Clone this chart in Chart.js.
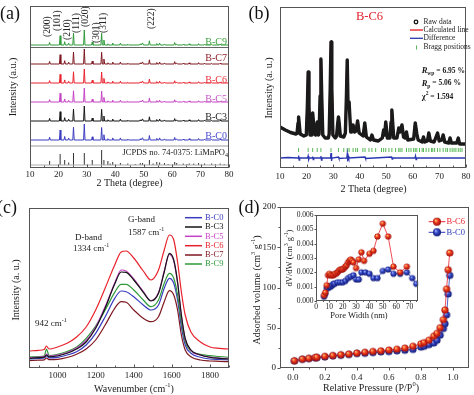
<!DOCTYPE html>
<html><head><meta charset="utf-8">
<script src="https://cdn.jsdelivr.net/npm/chart.js@4.4.1/dist/chart.umd.min.js"></script>
<style>
html,body{margin:0;padding:0;background:#fff;width:474px;height:395px;overflow:hidden;position:relative;}
canvas{position:absolute;display:block;}
</style></head><body>
<canvas id="ca" width="237" height="197" style="left:0;top:0"></canvas>
<canvas id="cb" width="237" height="197" style="left:237px;top:0"></canvas>
<canvas id="cc" width="237" height="198" style="left:0;top:197px"></canvas>
<canvas id="cd" width="237" height="198" style="left:237px;top:197px"></canvas>
<canvas id="ce" width="140" height="115" style="left:283px;top:207px"></canvas>
<script>
// ---------------- DATA ----------------
// (a) XRD patterns
const xrdTicks = [10, 20, 30, 40, 50, 60, 70, 80];
const xrdMinor = [15, 25, 35, 45, 55, 65, 75];
const xrdPeakPos = [16.9, 20.6, 22.2, 23.6, 25.3, 29.1, 31.9, 35.2, 36.0, 37.4, 39.1, 41.8, 44.4, 48.8, 49.6, 52.0, 54.6, 55.6, 57.3, 60.9, 61.6, 63.9, 66.0, 69.3, 71.4, 73.9, 76.9];
const xrdPeakRel = [0.17, 0.62, 0.22, 0.12, 0.80, 1.00, 0.20, 0.78, 0.33, 0.08, 0.13, 0.13, 0.05, 0.08, 0.14, 0.28, 0.10, 0.13, 0.07, 0.16, 0.06, 0.05, 0.08, 0.09, 0.06, 0.04, 0.05];
const xrdNames = ['B-C0', 'B-C3', 'B-C5', 'B-C6', 'B-C7', 'B-C9'];
const xrdOffsets = [28, 47, 66, 85, 104, 123];
const xrdHeights = [16, 15, 14, 14, 15, 15];
const jcpdsPos = [16.9, 20.6, 22.2, 23.6, 25.3, 29.1, 31.9, 35.2, 36.0, 37.4, 38.2, 39.1, 41.8, 44.4, 47.0, 48.8, 49.6, 52.0, 53.3, 54.6, 55.6, 57.3, 58.6, 60.9, 61.6, 63.9, 65.2, 66.0, 67.6, 69.3, 71.4, 73.9, 75.2, 76.9, 78.3];
const jcpdsInt = [4, 11, 5, 2.5, 12, 12, 5, 15, 5, 4, 1.5, 3, 2, 1.5, 1, 2, 2, 5, 1.5, 3, 2.5, 2, 1, 3, 2, 1.5, 1, 1.5, 1.5, 2, 1.5, 1.5, 1, 1.5, 1];
const hklLabels = ['(200)', '(101)', '(210)', '(111)', '(020)', '(301)', '(311)', '(222)'];
const hklAngle = [16.0, 19.6, 23.3, 26.2, 29.6, 33.4, 36.0, 52.6];

// (b) Rietveld refinement of B-C6
const refineCalc = [[10,41],[12,38],[14,35.5],[16,34],[16.4,34.5],[16.8,45],[17.0,51],[17.2,45],[17.6,34],[19,32],[19.9,33],[20.3,62],[20.6,96],[20.9,62],[21.3,33],[21.7,33],[22.0,45],[22.3,55],[22.6,45],[23.0,34],[23.4,33],[24.0,46],[24.5,33],[24.7,34],[25.1,72],[25.4,109],[25.7,72],[26.1,33],[27,30],[28.2,30],[28.5,34],[28.9,80],[29.2,126],[29.5,80],[29.9,33],[30.8,30],[31.3,32],[31.7,44],[32.0,51],[32.3,44],[32.7,32],[34,31],[34.6,35],[35.0,72],[35.3,108],[35.6,62],[36.0,66],[36.6,36],[37.0,36],[37.5,43],[38.0,36],[38.6,37],[39.2,47],[39.8,35],[41.3,32],[41.9,45],[42.5,31],[44,28],[44.6,33],[45.2,28],[47,27],[48.5,30],[49,38],[49.4,33],[49.8,46],[50.4,30],[51.4,30],[51.8,46],[52.1,58],[52.4,46],[52.8,30],[54,30],[54.7,40],[55.2,36],[55.9,43],[56.5,31],[57.1,30],[57.6,36],[58.1,28],[60.3,29],[60.9,45],[61.5,34],[62,28],[63.5,26],[64,31],[64.5,26],[65.5,27],[66,35],[66.6,27],[68,26],[69.3,35],[69.9,27],[70.9,28],[71.4,33],[72,26],[73.5,25],[74,30],[74.5,25],[76.5,25],[77.1,30],[77.6,24],[80,24]];
const refineDiff = [[10,10],[13,10.5],[16.8,10],[17,12.5],[17.2,8],[17.4,10],[20.4,10],[20.6,12],[20.8,8.5],[21,10],[22.1,10],[22.3,11.5],[22.5,8.5],[22.7,10],[25.2,10],[25.4,12],[25.6,8],[25.8,10],[29,10],[29.2,15],[29.4,7],[29.6,10],[32,11],[32.2,9.5],[35.1,10],[35.3,14],[35.5,6.5],[35.7,12],[35.9,10],[42,11],[42.2,9.5],[52,11],[52.2,9],[52.4,10],[60.8,10],[61,12],[61.2,8.5],[61.4,10],[80,10]];
const braggPos = [17, 20.6, 22.3, 24, 25.4, 29.2, 32, 34, 35.3, 36, 37.5, 38.5, 39.2, 41.2, 42, 43.5, 44.6, 46, 48.2, 49, 49.8, 51, 52.1, 53.5, 54.7, 55.2, 55.9, 57.6, 58.5, 59.3, 60.3, 60.9, 61.5, 62.5, 63.5, 64, 65, 66, 67, 67.5, 68.2, 69.3, 70.2, 71.4, 72.4, 73, 74, 74.8, 75.5, 76.2, 77.1, 77.8, 78.5];

// (c) Raman spectra
const ramanTicks = [1000, 1200, 1400, 1600, 1800];
const ramanMinor = [900, 1100, 1300, 1500, 1700, 1900];
const ramanX = [850, 900, 930, 942, 955, 1000, 1050, 1100, 1150, 1200, 1250, 1300, 1334, 1360, 1400, 1450, 1490, 1530, 1560, 1587, 1610, 1630, 1650, 1670, 1700, 1750, 1800, 1850, 1900];
const ramanC0 = [9, 9.5, 10, 12, 10.2, 10.7, 13, 16.3, 23, 34.7, 51.3, 69.7, 77, 76.3, 71.3, 63, 58, 63, 79.7, 89.7, 84.7, 68, 41.3, 23, 14.7, 10.7, 9, 8.5, 8];
const ramanC3 = [9.7, 10.3, 10.8, 13, 11.2, 12, 14.7, 19, 26, 39.7, 60, 84, 96, 95.7, 88, 75.7, 67, 74.7, 96, 114.7, 108, 86, 53, 29.7, 18, 13, 10.7, 9.7, 9];
const ramanC5 = [10.3, 10.8, 11.3, 14, 11.8, 12.8, 15.5, 20, 27.5, 41, 61.5, 85, 98, 97, 89, 76.5, 67.5, 75.5, 97, 113.7, 107, 85, 52, 29, 17.5, 13, 11, 10, 9.5];
const ramanC6 = [17, 17.7, 18.5, 22, 19, 21, 24.7, 31, 41, 58, 80, 103, 116, 117, 110, 97, 88, 98, 118, 133, 128, 106, 76, 53, 36, 26, 21, 19.7, 19];
const ramanC7 = [7.3, 7.8, 8.2, 10, 8.4, 8.7, 10.5, 13.7, 19, 28, 43, 59.7, 66.3, 65.7, 58, 49.7, 46.3, 51.3, 66.3, 77.3, 73, 58, 33, 18, 11.3, 8, 7, 6.7, 6.3];
const ramanC9 = [11, 11.5, 12, 19, 12.5, 13.7, 16.5, 21, 29.7, 42, 58, 75.7, 83.7, 83.7, 78, 68, 61.3, 68, 84.7, 94.7, 89.7, 73, 46.3, 26.3, 17, 13.7, 12.3, 11.5, 10.7];

// (d) N2 isotherms
const isoTicksX = [0, 0.2, 0.4, 0.6, 0.8, 1.0];
const isoMinorX = [0.1, 0.3, 0.5, 0.7, 0.9];
const isoTicksY = [0, 50, 100, 150, 200];
const isoMinorY = [25, 75, 125, 175];
const isoP = [0.01, 0.06, 0.10, 0.14, 0.15, 0.20, 0.25, 0.30, 0.35, 0.40, 0.45, 0.50, 0.55, 0.60, 0.65, 0.70, 0.75, 0.80, 0.82, 0.85, 0.88, 0.90, 0.92, 0.94, 0.95, 0.96, 0.97, 0.98];
const isoBC6 = [9, 11, 12, 13, 13.3, 14.5, 15.5, 16.5, 17.3, 18.5, 19.5, 20.5, 21.3, 22.3, 23.3, 24.7, 27, 30, 31.5, 34.5, 39.5, 43, 50, 60, 72, 98, 122, 143];
const isoBC0 = [8.7, 10.8, 11.7, 12.5, 12.8, 13.7, 15, 15.8, 16.7, 18, 18.3, 19.1, 20, 20.4, 21.2, 22, 23, 26, 27, 29, 31, 34.5, 40.8, 49, 55, 66, 92, 115];
// (d) inset pore size distribution
const poreTicksX = [0, 10, 20, 30, 40, 50, 60, 70];
const poreMinorX = [5, 15, 25, 35, 45, 55, 65, 75];
const poreTicksY = [0, 0.001, 0.002, 0.003, 0.004, 0.005, 0.006];
const poreW6 = [6, 7, 8, 9, 10, 11, 12, 13, 14, 15, 16, 17, 18, 19, 20, 21, 22, 23, 24, 25, 26, 27, 28, 30, 32, 34, 36, 40, 43, 46, 50, 54, 58, 63, 68];
const poreV6 = [0.0004, 0.0006, 0.0011, 0.0018, 0.0019, 0.0018, 0.0018, 0.0018, 0.0019, 0.0019, 0.0020, 0.0021, 0.0022, 0.0022, 0.0022, 0.0023, 0.0024, 0.0025, 0.0027, 0.0028, 0.0029, 0.0028, 0.0027, 0.0023, 0.0029, 0.0034, 0.0028, 0.0033, 0.0035, 0.0045, 0.0054, 0.0045, 0.0024, 0.0020, 0.0024];
const poreW0 = [6, 7, 8, 9, 10, 11, 12, 13, 14, 16, 18, 20, 22, 24, 26, 28, 30, 32, 34, 37, 40, 43, 46, 50, 54, 58, 63, 68, 72, 75];
const poreV0 = [0.0003, 0.0005, 0.0009, 0.0009, 0.0010, 0.0010, 0.0011, 0.0012, 0.0012, 0.0013, 0.0013, 0.0013, 0.0014, 0.0016, 0.0017, 0.0018, 0.0015, 0.0015, 0.0020, 0.0020, 0.0019, 0.0016, 0.0016, 0.0021, 0.0022, 0.0019, 0.0019, 0.0020, 0.0016, 0.0012];

// ---------------- STYLE / HELPERS ----------------
const FAM = '"Liberation Serif", "Times New Roman", serif';
const F = (s, st) => (st ? st + ' ' : '') + s + 'px ' + FAM;
const COL = {C0: '#3a3cc0', C3: '#151515', C5: '#c642c6', C6: '#e8222c', C7: '#7e1820', C9: '#2f9a3a'};
const xrdColors = [COL.C0, COL.C3, COL.C5, COL.C6, COL.C7, COL.C9];
const xrdTextColors = ['#4a4ad0', '#222', '#c455c4', '#e8303a', '#8b1c24', '#3a9f3a'];
const AXC = '#555';

function xy(xs, ys) { return xs.map((x, i) => ({x: x, y: ys[i]})); }
function setTicks(vals) { return s => { s.ticks = vals.map(v => ({value: v})); }; }

function rich(ctx, runs, x, y, align, rot) {
  ctx.save(); ctx.translate(x, y); if (rot) ctx.rotate(rot);
  ctx.textBaseline = 'middle'; ctx.textAlign = 'left';
  let w = 0; runs.forEach(r => { ctx.font = r.f; w += ctx.measureText(r.t).width; });
  let cx = align === 'center' ? -w / 2 : (align === 'right' ? -w : 0);
  runs.forEach(r => { ctx.font = r.f; ctx.fillStyle = r.c || '#1a1a1a'; ctx.fillText(r.t, cx, r.dy || 0); cx += ctx.measureText(r.t).width; });
  ctx.restore();
}
function txt(ctx, t, x, y, font, color, align, rot) { rich(ctx, [{t: t, f: font, c: color}], x, y, align || 'left', rot); }

function drawFrame(chart, o) {
  const {ctx, chartArea: a} = chart;
  const xs = chart.scales.x, ys = chart.scales.y;
  const L = Math.round(a.left) + 0.5, R = Math.round(a.right) - 0.5, T = Math.round(a.top) + 0.5, B = Math.round(a.bottom) - 0.5;
  ctx.save();
  ctx.strokeStyle = o.color || AXC; ctx.lineWidth = 1;
  ctx.strokeRect(L, T, R - L, B - T);
  const d = o.out ? 1 : -1;
  ctx.beginPath();
  const xt = (vals, len) => (vals || []).forEach(v => { const p = Math.round(xs.getPixelForValue(v)) + 0.5; ctx.moveTo(p, B); ctx.lineTo(p, B + d * len); });
  const yt = (vals, len) => (vals || []).forEach(v => { const p = Math.round(ys.getPixelForValue(v)) + 0.5; ctx.moveTo(L, p); ctx.lineTo(L - d * len, p); });
  xt(o.xMajor, o.maj || 4); xt(o.xMinor, o.min || 2);
  yt(o.yMajor, o.maj || 4); yt(o.yMinor, o.min || 2);
  ctx.stroke(); ctx.restore();
}
function sphere(r, c0, c1, c2) {
  const s = Math.ceil(r * 2 + 2);
  const cv = document.createElement('canvas'); cv.width = s; cv.height = s;
  const g = cv.getContext('2d');
  const c = s / 2;
  const gr = g.createRadialGradient(c - r * 0.35, c - r * 0.4, r * 0.05, c, c, r);
  gr.addColorStop(0, c0); gr.addColorStop(0.45, c1); gr.addColorStop(1, c2);
  g.fillStyle = gr; g.beginPath(); g.arc(c, c, r, 0, Math.PI * 2); g.fill();
  return cv;
}
const redBall = sphere(3.6, '#ffd080', '#f03a1a', '#9a0c0c');
const blueBall = sphere(3.6, '#a8b8ff', '#3448c8', '#101870');
const redBallS = sphere(3.1, '#ffd080', '#f03a1a', '#9a0c0c');
const blueBallS = sphere(3.1, '#a8b8ff', '#3448c8', '#101870');
const redBallL = sphere(4.0, '#ffd080', '#f03a1a', '#9a0c0c');
const blueBallL = sphere(4.0, '#a8b8ff', '#3448c8', '#101870');

function baseOpts(o) {
  return {
    animation: false, responsive: false, events: [],
    layout: {padding: {top: o.pt, right: o.pr, left: 0, bottom: 0}},
    plugins: {legend: {display: false}, tooltip: {enabled: false}},
    scales: {
      x: {type: 'linear', min: o.xmin, max: o.xmax, afterBuildTicks: setTicks(o.xt), afterFit: s => { s.height = o.xh; },
          grid: {display: false, drawTicks: false}, border: {display: false},
          ticks: {font: {family: FAM, size: o.fs || 9}, color: '#222', padding: o.xpad, autoSkip: false, maxRotation: 0, callback: o.xcb}},
      y: {type: 'linear', min: o.ymin, max: o.ymax, afterFit: s => { s.width = o.yw; },
          afterBuildTicks: o.yt ? setTicks(o.yt) : undefined,
          grid: {display: false, drawTicks: false}, border: {display: false},
          ticks: {display: !!o.yt, font: {family: FAM, size: o.fs || 9}, color: '#222', padding: o.ypad || 0, autoSkip: false, callback: o.ycb}}
    }
  };
}
function line(data, color, w, extra) {
  return Object.assign({data: data, showLine: true, borderColor: color, backgroundColor: color, borderWidth: w, pointRadius: 0, fill: false}, extra || {});
}

// ---------------- (a) ----------------
function spikes(base, h) {
  const pts = [{x: 10, y: base}];
  xrdPeakPos.forEach((p, i) => { pts.push({x: p - 0.25, y: base}, {x: p, y: base + xrdPeakRel[i] * h}, {x: p + 0.25, y: base}); });
  pts.push({x: 80, y: base});
  return pts;
}
const jcpdsData = [];
jcpdsPos.forEach((p, i) => { jcpdsData.push({x: p, y: 3}, {x: p, y: 3 + jcpdsInt[i]}, {x: p, y: null}); });
const dsA = xrdNames.map((n, i) => line(spikes(xrdOffsets[i], xrdHeights[i]), xrdColors[i], 1));
dsA.push(line([{x: 10, y: 22}, {x: 80, y: 22}], '#9a9a9a', 1));
dsA.push(line([{x: 10, y: 3}, {x: 80, y: 3}], '#aaaaaa', 1));
dsA.push(line([{x: 10, y: 120.5}, {x: 80, y: 120.5}], '#666', 1));
dsA.push(line(jcpdsData, '#333', 1, {spanGaps: false}));

new Chart(document.getElementById('ca'), {
  type: 'scatter', data: {datasets: dsA},
  options: baseOpts({pt: 6, pr: 8, xmin: 10, xmax: 80, xt: xrdTicks, xh: 29, xpad: 1, ymin: 0, ymax: 162, yw: 30}),
  plugins: [{id: 'decoA', afterDatasetsDraw(chart) {
    drawFrame(chart, {xMajor: xrdTicks, xMinor: xrdMinor, maj: 3, min: 2});
    const ctx = chart.ctx, xs = chart.scales.x;
    const hklBottom = [37, 31, 40, 33, 27, 43, 33, 29];
    hklLabels.forEach((t, i) => txt(ctx, t, xs.getPixelForValue(hklAngle[i]), hklBottom[i], F(9.5), '#222', 'left', -Math.PI / 2));
    const labY = [136.7, 117.3, 99.3, 80.7, 58.3, 42.7];
    xrdNames.forEach((n, i) => txt(ctx, n, 227, labY[i], F(10), xrdTextColors[i], 'right'));
    rich(ctx, [{t: 'JCPDS no. 74-0375: LiMnPO', f: F(8.5)}, {t: '4', f: F(6), dy: 2.5}], 228, 153, 'right');
    txt(ctx, '2 Theta (degree)', 129.5, 183.5, F(10), '#1a1a1a', 'center');
    txt(ctx, 'Intensity (a.u.)', 13, 87, F(10), '#1a1a1a', 'center', -Math.PI / 2);
    txt(ctx, '(a)', 0, 14, F(18), '#111', 'left');
  }}]
});

// ---------------- (b) ----------------
const calcPts = refineCalc.map(p => ({x: p[0], y: p[1]}));
const dsB = [
  line(calcPts, '#1a1a1a', 3.4, {borderJoinStyle: 'round', borderCapStyle: 'round'}),
  line(calcPts, '#e01818', 2.2, {borderJoinStyle: 'round'}),
  line(refineDiff.map(p => ({x: p[0], y: p[1]})), '#2a36b0', 1.3),
  {data: braggPos.map(p => ({x: p, y: 18})), showLine: false, pointStyle: 'line', rotation: 90, pointRadius: 2, borderColor: '#58b858', borderWidth: 1}
];
new Chart(document.getElementById('cb'), {
  type: 'scatter', data: {datasets: dsB},
  options: baseOpts({pt: 7, pr: 7, xmin: 10, xmax: 80, xt: xrdTicks, xh: 29, xpad: 3.5, ymin: 0, ymax: 161, yw: 43}),
  plugins: [{id: 'decoB', afterDatasetsDraw(chart) {
    drawFrame(chart, {xMajor: xrdTicks, xMinor: xrdMinor, maj: 3, min: 2});
    const ctx = chart.ctx; ctx.save(); ctx.translate(-237, 0);
    txt(ctx, 'B-C6', 369.5, 16.7, F(12.5), '#e0202a', 'center');
    // legend
    ctx.strokeStyle = '#111'; ctx.lineWidth = 1.3; ctx.beginPath(); ctx.arc(416, 22, 1.8, 0, Math.PI * 2); ctx.stroke();
    ctx.strokeStyle = '#e01818'; ctx.lineWidth = 1.3; ctx.beginPath(); ctx.moveTo(410, 30); ctx.lineTo(423, 30); ctx.stroke();
    ctx.strokeStyle = '#2a36b0'; ctx.beginPath(); ctx.moveTo(410, 38.3); ctx.lineTo(423, 38.3); ctx.stroke();
    ctx.strokeStyle = '#58b858'; ctx.lineWidth = 1; ctx.beginPath(); ctx.moveTo(416.5, 45.5); ctx.lineTo(416.5, 49.5); ctx.stroke();
    txt(ctx, 'Raw data', 423.5, 22, F(7.5), '#222');
    txt(ctx, 'Calculated line', 423.5, 30, F(7.5), '#222');
    txt(ctx, 'Difference', 423.5, 38.3, F(7.5), '#222');
    txt(ctx, 'Bragg positions', 423.5, 47.3, F(7.5), '#222');
    rich(ctx, [{t: 'R', f: F(8.5, 'italic bold')}, {t: 'wp', f: F(5.5, 'bold'), dy: 3}, {t: ' = 6.95 %', f: F(7.5, 'bold')}], 421.7, 70.7, 'left');
    rich(ctx, [{t: 'R', f: F(8.5, 'italic bold')}, {t: 'p', f: F(5.5, 'bold'), dy: 3}, {t: ' = 5.06 %', f: F(7.5, 'bold')}], 421.7, 83.3, 'left');
    rich(ctx, [{t: 'χ', f: F(8.5, 'bold')}, {t: '2', f: F(5.5, 'bold'), dy: -3}, {t: ' = 1.594', f: F(7.5, 'bold')}], 421.7, 96.7, 'left');
    txt(ctx, '2 Theta (degree)', 373.5, 189, F(10), '#1a1a1a', 'center');
    txt(ctx, 'Intensity (a. u.)', 269, 88, F(10), '#1a1a1a', 'center', -Math.PI / 2);
    txt(ctx, '(b)', 248.5, 14, F(18), '#111', 'left');
    ctx.restore();
  }}]
});

// ---------------- (c) ----------------
const ramanSeries = [
  {n: 'B-C6', d: ramanC6, c: COL.C6},
  {n: 'B-C3', d: ramanC3, c: COL.C3},
  {n: 'B-C5', d: ramanC5, c: COL.C5},
  {n: 'B-C9', d: ramanC9, c: COL.C9},
  {n: 'B-C0', d: ramanC0, c: COL.C0},
  {n: 'B-C7', d: ramanC7, c: COL.C7}
];
const dsC = ramanSeries.map(s => line(xy(ramanX, s.d), s.c, 1.2, {cubicInterpolationMode: 'monotone'}));
new Chart(document.getElementById('cc'), {
  type: 'scatter', data: {datasets: dsC},
  options: baseOpts({pt: 11, pr: 8, xmin: 850, xmax: 1900, xt: ramanTicks, xh: 27, xpad: 2.5, ymin: 0, ymax: 160, yw: 29}),
  plugins: [{id: 'decoC', afterDatasetsDraw(chart) {
    drawFrame(chart, {xMajor: ramanTicks, xMinor: ramanMinor, maj: 3, min: 2});
    const ctx = chart.ctx; ctx.save(); ctx.translate(0, -197);
    const leg = [['B-C0', COL.C0], ['B-C3', COL.C3], ['B-C5', COL.C5], ['B-C6', COL.C6], ['B-C7', COL.C7], ['B-C9', COL.C9]];
    const legY = [217.7, 227, 236.3, 245.7, 255, 264];
    leg.forEach((l, i) => {
      ctx.strokeStyle = l[1]; ctx.lineWidth = 1.5; ctx.beginPath(); ctx.moveTo(185, legY[i]); ctx.lineTo(202, legY[i]); ctx.stroke();
      txt(ctx, l[0], 205, legY[i], F(8.5), l[1]);
    });
    txt(ctx, 'G-band', 128, 220, F(9), '#1a1a1a');
    rich(ctx, [{t: '1587 cm', f: F(9)}, {t: '-1', f: F(6), dy: -3.5}], 128, 233, 'left');
    txt(ctx, 'D-band', 75, 237.5, F(9), '#1a1a1a');
    rich(ctx, [{t: '1334 cm', f: F(9)}, {t: '-1', f: F(6), dy: -3.5}], 73, 249, 'left');
    rich(ctx, [{t: '942 cm', f: F(9)}, {t: '-1', f: F(6), dy: -3.5}], 35, 323.5, 'left');
    rich(ctx, [{t: 'Wavenumber (cm', f: F(10)}, {t: '-1', f: F(6.5), dy: -4}, {t: ')', f: F(10)}], 134, 389, 'center');
    txt(ctx, 'Intensity (a. u.)', 16.7, 290, F(10), '#1a1a1a', 'center', -Math.PI / 2);
    txt(ctx, '(c)', -3, 208.5, F(18), '#111', 'left');
    ctx.restore();
  }}]
});

// ---------------- (d) ----------------
const dsD = [
  line(xy(isoP, isoBC6), '#e8222c', 0.8, {pointRadius: 3.6, pointStyle: redBall}),
  line(xy(isoP, isoBC0), '#2a3ab8', 0.8, {pointRadius: 3.6, pointStyle: blueBall})
];
new Chart(document.getElementById('cd'), {
  type: 'scatter', data: {datasets: dsD},
  options: baseOpts({pt: 10, pr: 5, xmin: -0.08, xmax: 1.1, xt: isoTicksX, xh: 27, xpad: 4, xcb: v => v.toFixed(1),
                     ymin: 0, ymax: 200, yt: isoTicksY, yw: 43, ypad: 4}),
  plugins: [{id: 'decoD', afterDatasetsDraw(chart) {
    drawFrame(chart, {xMajor: isoTicksX, xMinor: isoMinorX, yMajor: isoTicksY, yMinor: isoMinorY, out: true, maj: 3, min: 2});
    const ctx = chart.ctx; ctx.save(); ctx.translate(-237, -197);
    [[221.7, '#e8222c', redBallL, 'B-C6'], [232.3, '#2a3ab8', blueBallL, 'B-C0']].forEach(l => {
      ctx.strokeStyle = l[1]; ctx.lineWidth = 1; ctx.beginPath(); ctx.moveTo(428.7, l[0]); ctx.lineTo(445.3, l[0]); ctx.stroke();
      ctx.drawImage(l[2], 437 - l[2].width / 2, l[0] - l[2].height / 2);
      txt(ctx, l[3], 446.5, l[0], F(8.5), l[1]);
    });
    rich(ctx, [{t: 'Relative Pressure (P/P', f: F(10)}, {t: '0', f: F(6.5), dy: -4}, {t: ')', f: F(10)}], 371, 388, 'center');
    rich(ctx, [{t: 'Adsorbed volume (cm', f: F(10)}, {t: '3', f: F(6.5), dy: -4}, {t: ' g', f: F(10)}, {t: '-1', f: F(6.5), dy: -4}, {t: ')', f: F(10)}], 257, 290, 'center', -Math.PI / 2);
    txt(ctx, '(d)', 238.5, 208, F(18), '#111', 'left');
    ctx.restore();
  }}]
});

// ---------------- (d) inset ----------------
const dsE = [
  line(xy(poreW6, poreV6), '#e8222c', 0.8, {pointRadius: 3.1, pointStyle: redBallS}),
  line(xy(poreW0, poreV0), '#2a3ab8', 0.8, {pointRadius: 3.1, pointStyle: blueBallS})
];
new Chart(document.getElementById('ce'), {
  type: 'scatter', data: {datasets: dsE},
  options: baseOpts({pt: 8, pr: 4.5, xmin: 0, xmax: 76.5, xt: poreTicksX, xh: 21, xpad: 2, fs: 7.5,
                     ymin: 0, ymax: 0.006, yt: poreTicksY, yw: 33, ypad: 2.5, ycb: v => v.toFixed(3)}),
  plugins: [{id: 'decoE', beforeDatasetsDraw(chart) {
    const {ctx, chartArea: a} = chart; ctx.save(); ctx.fillStyle = '#fff'; ctx.fillRect(a.left, a.top, a.width, a.height); ctx.restore();
  }, afterDatasetsDraw(chart) {
    drawFrame(chart, {xMajor: poreTicksX, xMinor: poreMinorX, yMajor: poreTicksY, out: true, maj: 2, min: 1.5});
    const ctx = chart.ctx; ctx.save(); ctx.translate(-283, -207);
    txt(ctx, 'Pore Width (nm)', 359, 315.7, F(8.5), '#1a1a1a', 'center');
    rich(ctx, [{t: 'dV/dW (cm', f: F(8.5)}, {t: '3', f: F(5.5), dy: -3.5}, {t: ' g', f: F(8.5)}, {t: '-1', f: F(5.5), dy: -3.5}, {t: ')', f: F(8.5)}], 289.7, 258, 'center', -Math.PI / 2);
    ctx.restore();
  }}]
});
</script>
</body></html>
